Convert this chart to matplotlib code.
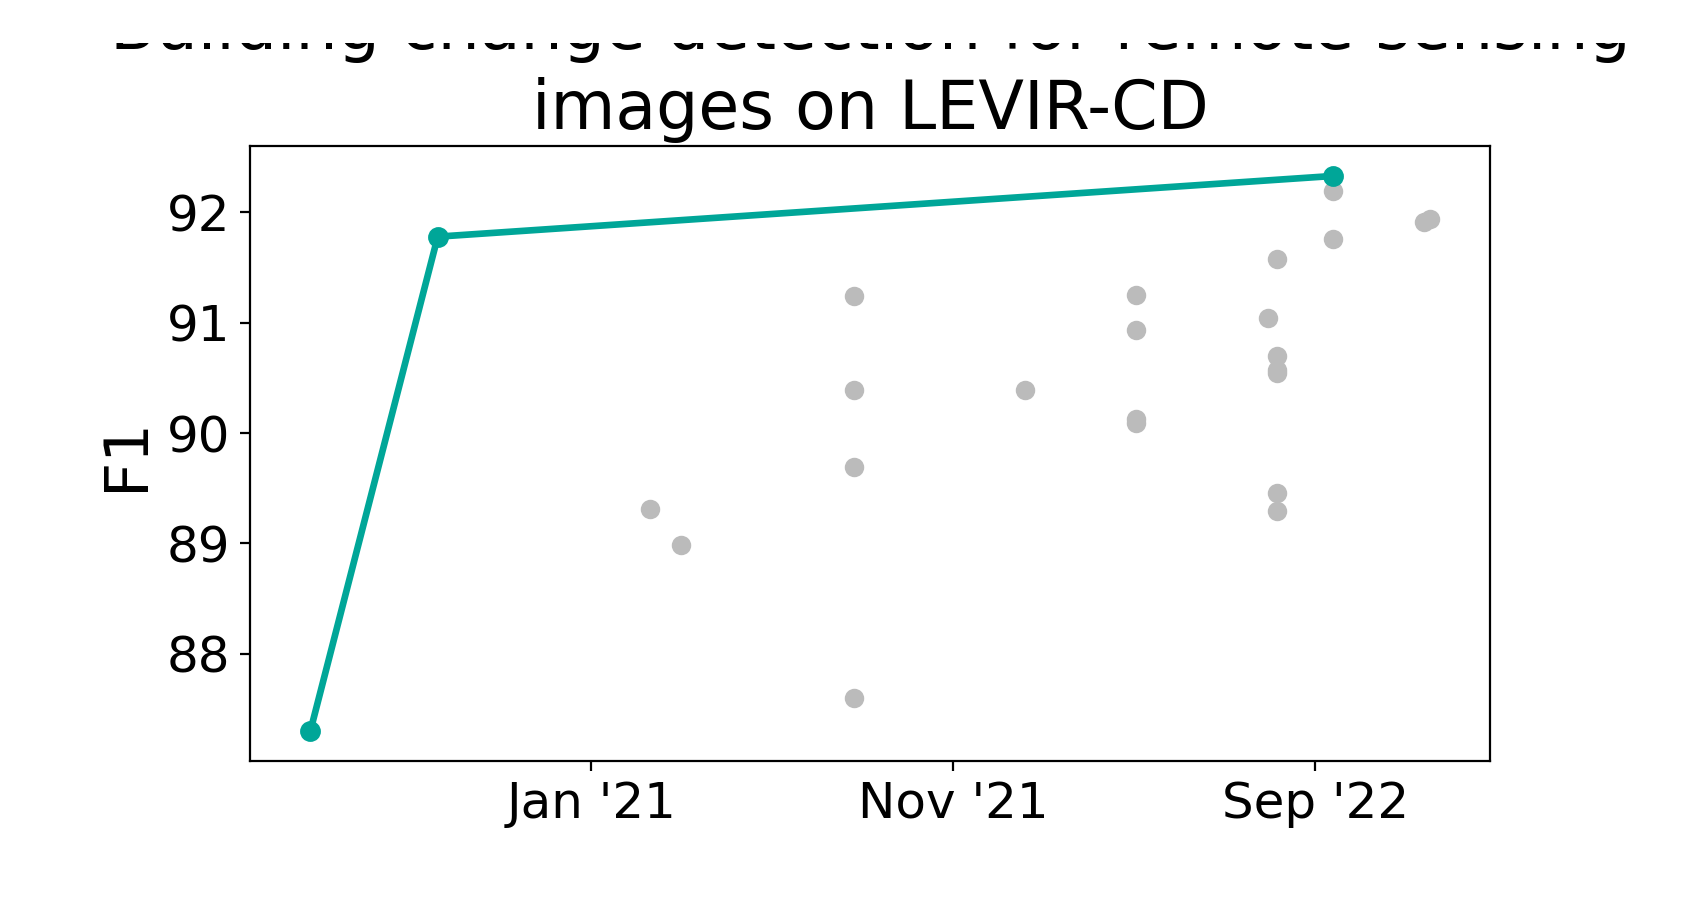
import pandas as pd
import matplotlib
matplotlib.use("Agg")
import matplotlib.pyplot as plt
import matplotlib.dates as mdates
from matplotlib.patches import Rectangle

# State of the art (best so far) models
sota_dates = ["2020-05-10", "2020-08-25", "2022-09-16"]
sota_f1 = [87.30, 91.78, 92.33]

# All other submitted models
other_dates = [
    "2021-02-19", "2021-03-17",
    "2021-08-10", "2021-08-10", "2021-08-10", "2021-08-10",
    "2021-12-31",
    "2022-04-03", "2022-04-03", "2022-04-03", "2022-04-03",
    "2022-07-23",
    "2022-07-31", "2022-07-31", "2022-07-31", "2022-07-31", "2022-07-31", "2022-07-31",
    "2022-09-16", "2022-09-16",
    "2022-12-01", "2022-12-06",
]
other_f1 = [
    89.31, 88.99,
    91.24, 90.39, 89.69, 87.60,
    90.39,
    91.25, 90.93, 90.13, 90.09,
    91.04,
    91.58, 90.70, 90.57, 90.54, 89.46, 89.29,
    92.19, 91.76,
    91.91, 91.94,
]

tick_dates = ["2021-01-01", "2021-11-01", "2022-09-01"]

fig = plt.figure(figsize=(8.5, 4.5), dpi=200)
ax = fig.add_axes([0.147, 0.1544, 0.7295, 0.6834])

# grey dots for the other models, then the SOTA line on top
ax.scatter(pd.to_datetime(other_dates), other_f1, s=36, color="#bbbbbb", zorder=2)
ax.plot(pd.to_datetime(sota_dates), sota_f1, color="#00a698", linewidth=2.4,
        marker="o", markersize=6.5, zorder=3)
ax.margins(0.054)

ax.set_xticks(pd.to_datetime(tick_dates))
ax.xaxis.set_major_formatter(mdates.DateFormatter("%b '%y"))
ax.tick_params(labelsize=18)
ax.set_ylabel("F1", fontsize=22)
ax.set_title("Building change detection for remote sensing\nimages on LEVIR-CD",
             fontsize=24, linespacing=1.28)

# the top of the first title line is cut off in the original
fig.add_artist(Rectangle((0, 1 - 43 / 900), 1, 43 / 900, transform=fig.transFigure,
                         facecolor="white", edgecolor="none", zorder=10))

fig.savefig("out.png", dpi=200)
